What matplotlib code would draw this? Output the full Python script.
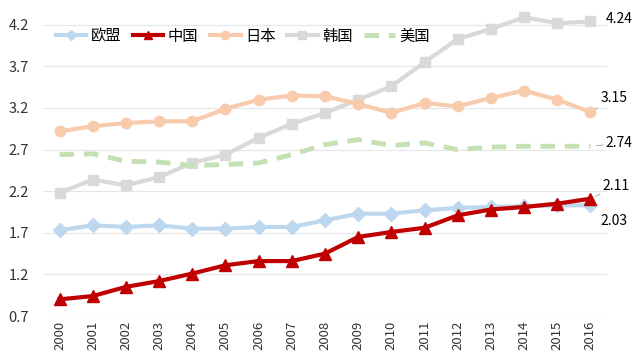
import matplotlib.pyplot as plt
import numpy as np

plt.rcParams['font.family'] = ['Noto Sans CJK SC', 'DejaVu Sans']

years = list(range(2000, 2017))
eu = [1.73, 1.79, 1.77, 1.79, 1.75, 1.75, 1.77, 1.77, 1.85, 1.93, 1.93, 1.97, 2.00, 2.01, 2.02, 2.03, 2.03]
china = [0.90, 0.94, 1.05, 1.12, 1.21, 1.31, 1.36, 1.36, 1.45, 1.65, 1.71, 1.76, 1.91, 1.98, 2.01, 2.05, 2.11]
japan = [2.92, 2.98, 3.02, 3.04, 3.04, 3.19, 3.30, 3.35, 3.34, 3.25, 3.14, 3.26, 3.22, 3.32, 3.41, 3.30, 3.15]
korea = [2.18, 2.34, 2.27, 2.37, 2.54, 2.64, 2.84, 3.01, 3.14, 3.30, 3.46, 3.75, 4.03, 4.15, 4.29, 4.22, 4.24]
usa = [2.64, 2.65, 2.56, 2.55, 2.51, 2.52, 2.54, 2.64, 2.76, 2.82, 2.75, 2.78, 2.70, 2.73, 2.74, 2.74, 2.74]
yticks = [0.7, 1.2, 1.7, 2.2, 2.7, 3.2, 3.7, 4.2]

fig = plt.figure(figsize=(6.4, 3.61), dpi=100)
ax = fig.add_axes([43/640, 1-316/361, 564/640, 312/361])

ax.plot(years, eu, color='#bdd7ee', lw=3, marker='D', ms=7, label='欧盟', zorder=3)
ax.plot(years, china, color='#c00000', lw=3, marker='^', ms=8, label='中国', zorder=5)
ax.plot(years, japan, color='#f8cbad', lw=3, marker='o', ms=7.5, label='日本', zorder=3)
ax.plot(years, korea, color='#d9d9d9', lw=3, marker='s', ms=7.5, label='韩国', zorder=2)
ax.plot(years, usa, color='#c5e0b4', lw=3.5, ls=(0, (3, 2)), label='美国', zorder=2)

ax.set_xlim(1999.5, 2016.5)
ax.set_ylim(0.7, 4.45)
ax.set_yticks(yticks)
ax.set_yticklabels([f'{v:.1f}' for v in yticks], fontsize=10.5, color='#333333')
ax.set_xticks(years)
ax.set_xticklabels([str(y) for y in years], rotation=90, fontsize=9.5, color='#333333')
ax.tick_params(length=0)
ax.tick_params(axis='y', pad=10)
ax.grid(axis='y', color='#e6e6e6', lw=0.8)
ax.set_axisbelow(True)
for s in ax.spines.values():
    s.set_visible(False)

# end labels
lead = dict(arrowstyle='-', color='#aaaaaa', lw=0.7, shrinkA=0, shrinkB=4)
ax.annotate('4.24', (2016, korea[-1]), xytext=(11, 2), textcoords='offset points',
            fontsize=10, va='center')
ax.annotate('3.15', (2016, japan[-1]), xytext=(7, 10), textcoords='offset points',
            fontsize=10, va='center', arrowprops=lead)
ax.annotate('2.74', (2016, usa[-1]), xytext=(11, 2), textcoords='offset points',
            fontsize=10, va='center', arrowprops=lead)
ax.annotate('2.11', (2016, china[-1]), xytext=(9, 9), textcoords='offset points',
            fontsize=10, va='center', arrowprops=lead)
ax.annotate('2.03', (2016, eu[-1]), xytext=(7, -11), textcoords='offset points',
            fontsize=10, va='center')

fig.legend(loc='center left', bbox_to_anchor=(42/640, 1-36/361), ncol=5, frameon=False,
           fontsize=11, handlelength=2.0, columnspacing=0.75, handletextpad=0.3,
           markerscale=0.8, prop={'size': 11})

fig.savefig('out.png', dpi=100)
